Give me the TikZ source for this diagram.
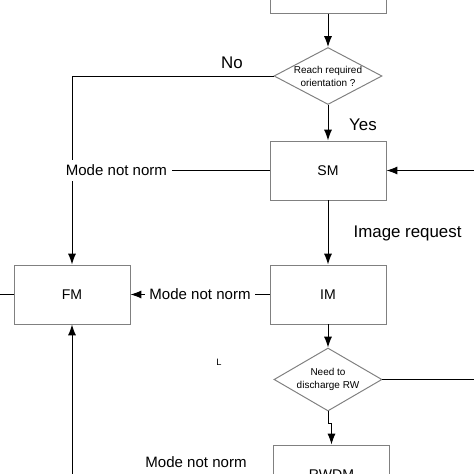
\documentclass[tikz,border=0pt]{standalone}
\usepackage{fontspec}
\setmainfont{Liberation Sans}
\usetikzlibrary{shapes.geometric, arrows.meta}

\begin{document}
\begin{tikzpicture}[
  box/.style={draw=gray, line width=0.7pt, minimum width=2.9cm, minimum height=1.475cm, font=\fontsize{10}{12}\selectfont},
  decision/.style={draw=gray, line width=0.7pt, diamond, aspect=1.9, inner sep=0pt, minimum width=2.7cm, minimum height=1.425cm, align=center, font=\fontsize{7.1}{9.2}\selectfont},
  flow/.style={line width=0.7pt, -{Latex[length=2.7mm, width=2mm]}},
  link/.style={line width=0.7pt},
  labelbig/.style={font=\fontsize{12}{14}\selectfont},
  labelmid/.style={font=\fontsize{10.7}{13}\selectfont}
]

\useasboundingbox (0,0) rectangle (11.85,11.85);

\node[box] (top) at (8.2, 12.26) {};
\node[decision] (orient) at (8.2, 9.95) {Reach required\\orientation ?};
\node[box] (sm) at (8.2, 7.5875) {SM};
\node[box] (im) at (8.2, 4.4875) {IM};
\node[box] (fm) at (1.8, 4.4875) {FM};
\node[decision, minimum height=1.575cm] (rw) at (8.2, 2.3625) {Need to\\discharge RW};
\node[box] (rwdm) at (8.2875, -0.0125) {RWDM};

\coordinate (inR) at (11.85, 7.5875);
\coordinate (outL) at (0, 4.4875);
\coordinate (inB) at (1.8, 0);
\coordinate (outR) at (11.85, 2.3625);

\draw[flow] (top) -- (orient);
\draw[flow] (orient.west) -| (fm.north);
\draw[flow] (orient) -- (sm);
\draw[flow] (inR) -- (sm.east);
\draw[flow] (sm) -- (im);
\draw[link] (sm.west) -- node[pos=0.775, fill=white, labelmid] (mn1) {Mode not norm} (sm.west -| fm.north);
\draw[flow] (im) -- node[fill=white, labelmid] (mn2) {Mode not norm} (fm);
\draw[link] (outL) -- (fm);
\draw[flow] (inB) -- (fm);
\draw[flow] (im) -- (rw);
\draw[link] (rw) -- (outR);
\draw[flow] (rw.south) -- ++(0,-0.3) -| (rwdm.north);

\node[labelbig] (no) at (5.8, 10.275) {No};
\node[labelbig] (yes) at (9.075, 8.7375) {Yes};
\node[labelbig] (req) at (10.19, 6.025) {Image request};
\node[font=\fontsize{6.6}{8}\selectfont] (l) at (5.475, 2.8) {L};
\node[labelmid] (mn3) at (4.9, 0.3) {Mode not norm};

\end{tikzpicture}
\end{document}
